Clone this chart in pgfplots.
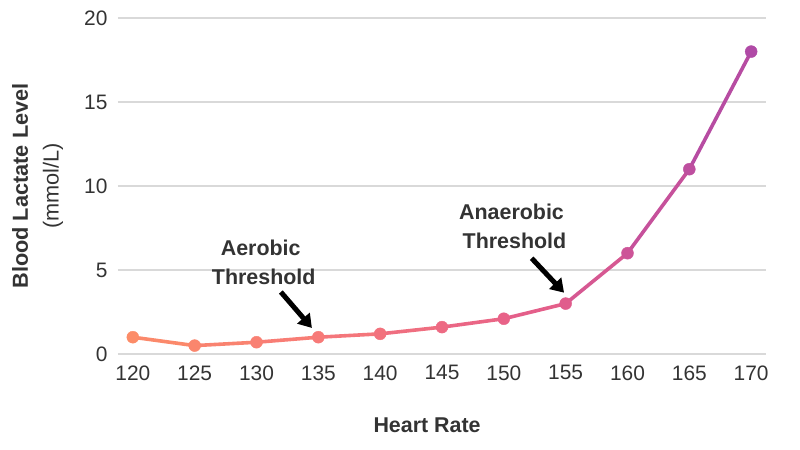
\documentclass[border=0pt]{standalone}
\usepackage{pgfplots}
\pgfplotsset{compat=1.18}
\usepackage{fontspec}
\setmainfont{Liberation Sans}
\usetikzlibrary{arrows.meta}
\definecolor{txt}{HTML}{333333}
\definecolor{gridc}{HTML}{D9D9D9}
\begin{document}
\begin{tikzpicture}
\useasboundingbox (-118bp,-96bp) rectangle (682bp,354bp);
\begin{axis}[
  scale only axis, width=648bp, height=336bp,
  xmin=118.8, xmax=171.2, ymin=0, ymax=20,
  xtick={120,125,...,170}, ytick={0,5,...,20},
  ymajorgrids, grid style={gridc, line width=1.3bp},
  axis line style={draw=none}, major tick length=0pt,
  tick label style={font=\fontsize{21}{25}\selectfont, text=txt},
  xticklabel style={yshift=-8bp}, yticklabel style={xshift=-7bp},
  /pgf/number format/assume math mode=true,
  xlabel={\textbf{Heart Rate}},
  xlabel style={at={(axis description cs:0.477,-0.211)}, anchor=center, font=\fontsize{21.5}{25}\selectfont, text=txt},
  ylabel={\textbf{Blood Lactate Level}\\(mmol/L)},
  ylabel style={at={(axis description cs:-0.124,0.5)}, anchor=center, align=center, font=\fontsize{21.8}{31}\selectfont, text=txt},
  clip=false,
  colormap={lact}{rgb255(0)=(252,140,104); rgb255(3)=(247,122,120); rgb255(6)=(232,98,136); rgb255(7)=(224,92,140); rgb255(8)=(205,84,152); rgb255(10)=(176,74,166)},
  point meta min=120, point meta max=170,
]
\addplot[mesh, line width=3.6bp, point meta=x] coordinates {
 (120,1.0) (125,0.5) (130,0.7) (135,1.0) (140,1.2) (145,1.6) (150,2.1) (155,3.0) (160,6.0) (165,11.0) (170,18.0)};
\addplot[scatter, only marks, mark=*, mark size=6bp, point meta=x,
  scatter/use mapped color={draw=mapped color, fill=mapped color}] coordinates {
 (120,1.0) (125,0.5) (130,0.7) (135,1.0) (140,1.2) (145,1.6) (150,2.1) (155,3.0) (160,6.0) (165,11.0) (170,18.0)};
\draw[line width=5bp, -{Triangle[length=13bp,width=16bp]}] (axis cs:131.97,3.69) -- (axis cs:134.48,1.55);
\draw[line width=5bp, -{Triangle[length=13bp,width=16bp]}] (axis cs:152.25,5.70) -- (axis cs:154.87,3.65);
\node[align=center, font=\fontsize{21.5}{29}\selectfont\bfseries, text=txt] at (axis cs:130.34,5.48) {Aerobic\\\hspace*{6bp}Threshold};
\node[align=center, font=\fontsize{21.5}{29}\selectfont\bfseries, text=txt] at (axis cs:150.62,7.59) {Anaerobic\\\hspace*{6bp}Threshold};
\end{axis}
\end{tikzpicture}
\end{document}
